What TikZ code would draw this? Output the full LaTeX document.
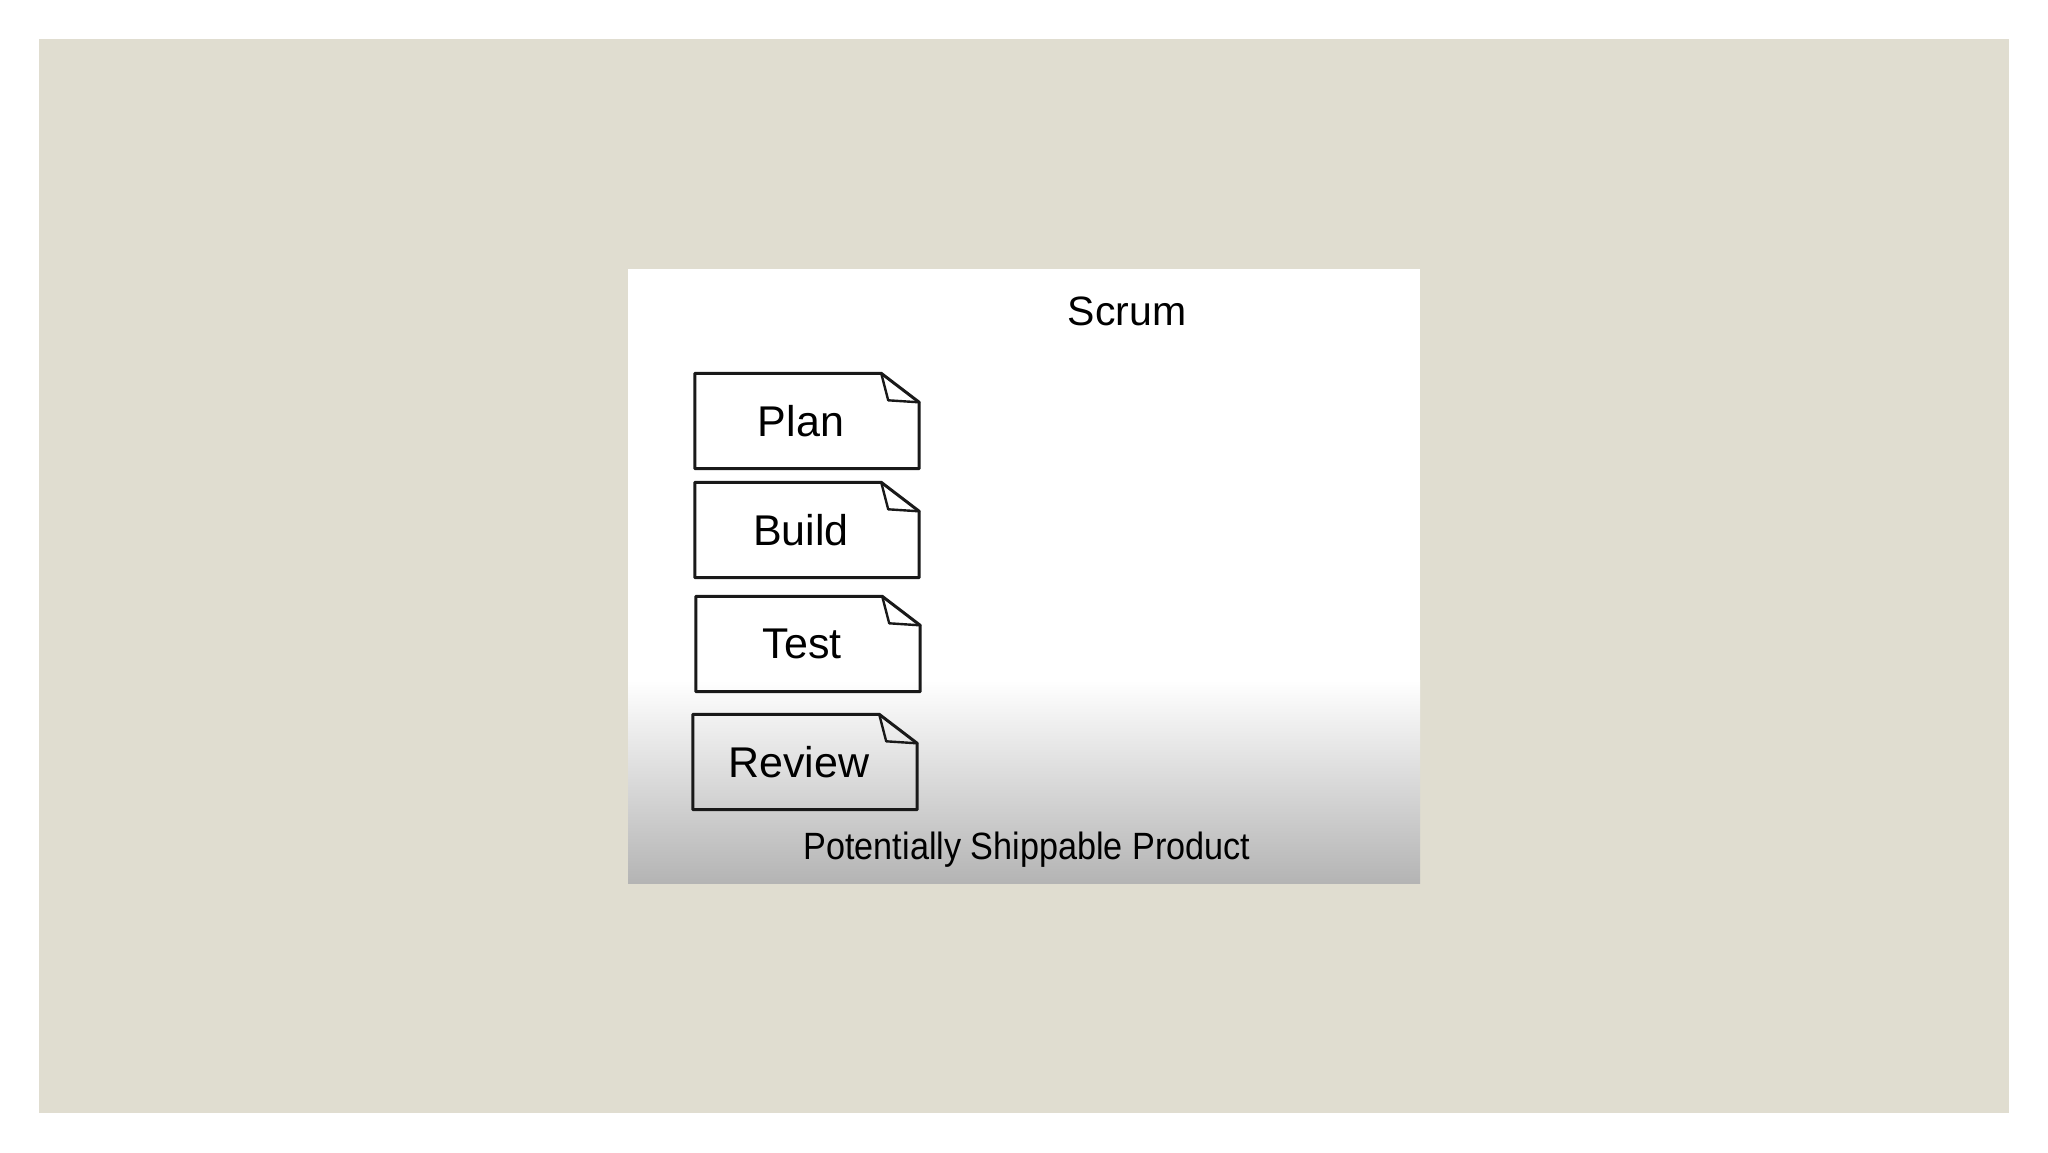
\documentclass[tikz,border=0pt]{standalone}
\usepackage{fontspec}
\setmainfont{Liberation Sans}
\definecolor{beige}{HTML}{E0DDD0}
\definecolor{panelgrey}{HTML}{B4B4B4}
\tikzset{
  box/.style={minimum width=224pt, minimum height=95pt, inner sep=0pt,
    font=\fontsize{43}{50}\selectfont},
  outline/.style={line width=3pt, line join=round, line cap=round, black!90},
  title/.style={font=\fontsize{41}{49}\selectfont, inner sep=0pt}
}
\newcommand{\lbl}[1]{#1\hspace*{12pt}}
\begin{document}
\begin{tikzpicture}[x=1pt,y=-1pt]
\useasboundingbox (0,0) rectangle (2048,1152);
\fill[white] (0,0) rectangle (2048,1152);
\fill[beige] (39,39) rectangle (2009,1113);
% panel
\fill[white] (628,269) rectangle (1420,883);
\shade[top color=white, bottom color=panelgrey] (628,680) rectangle (1420,883);
% title
\node[title] (scrum) at (1127,311) {Scrum};
% boxes
\node[box] (plan) at (807,421) {\lbl{Plan}};
\node[box] (build) at (807,530) {\lbl{Build}};
\node[box] (test) at (808,644) {\lbl{Test}};
\node[box] (review) at (805,762) {\lbl{Review}};
\foreach \n in {plan,build,test,review}{
  \draw[outline] (\n.south west) -- (\n.north west) -- ([xshift=-38pt]\n.north east)
    -- ([yshift=-29pt]\n.north east) -- (\n.south east) -- cycle;
  \draw[outline, line width=2.4pt] ([xshift=-38pt]\n.north east) -- ([xshift=-31pt,yshift=-27pt]\n.north east)
    -- ([yshift=-29pt]\n.north east);
}
\node[title, xscale=0.9, font=\fontsize{38}{46}\selectfont] (psp) at (1027,850) {Potentially Shippable Product};
\end{tikzpicture}
\end{document}
